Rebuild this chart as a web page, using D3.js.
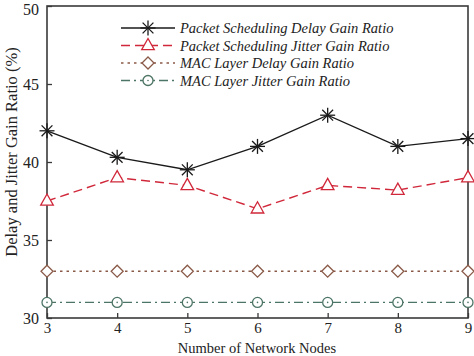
<!DOCTYPE html>
<html><head><meta charset="utf-8">
<script src="https://cdn.jsdelivr.net/npm/d3@7"></script>
<style>body{margin:0;background:#fff}svg{display:block}</style>
</head><body>
<script>
const nodes = [3,4,5,6,7,8,9];
const psDelay = [42.0,40.3,39.5,41.0,43.0,41.0,41.5];
const psJitter = [37.5,39.0,38.5,37.0,38.5,38.2,39.0];
const macDelay = [33,33,33,33,33,33,33];
const macJitter = [31,31,31,31,31,31,31];
const yTicks = [30,35,40,45,50];
const seriesNames = ["Packet Scheduling Delay Gain Ratio","Packet Scheduling Jitter Gain Ratio","MAC Layer Delay Gain Ratio","MAC Layer Jitter Gain Ratio"];

const W=474,H=356;
const svg=d3.select("body").append("svg").attr("width",W).attr("height",H);
const x=d3.scaleLinear().domain([3,9]).range([47,468]);
const y=d3.scaleLinear().domain([30,50]).range([318,6]);
const font="'Liberation Serif','Times New Roman',serif";

const series=[
 {name:seriesNames[0],vals:psDelay,color:"#1a1a1a",dash:null,marker:"star"},
 {name:seriesNames[1],vals:psJitter,color:"#d0283a",dash:"9,5",marker:"tri"},
 {name:seriesNames[2],vals:macDelay,color:"#8a5a48",dash:"2.5,4",marker:"diamond"},
 {name:seriesNames[3],vals:macJitter,color:"#4d7565",dash:"9,4,2,4",marker:"circle"}
];

function drawMarker(g,type,cx,cy,color){
  if(type==="star"){
    const r=7.5;
    [[-r,0,r,0],[0,-r,0,r],[-r*0.72,-r*0.72,r*0.72,r*0.72],[-r*0.72,r*0.72,r*0.72,-r*0.72]].forEach(l=>{
      g.append("line").attr("x1",cx+l[0]).attr("y1",cy+l[1]).attr("x2",cx+l[2]).attr("y2",cy+l[3]).attr("stroke",color).attr("stroke-width",1.3);
    });
  } else if(type==="tri"){
    const r=7;
    g.append("path").attr("d",`M${cx},${cy-r}L${cx+r*0.9},${cy+r*0.6}L${cx-r*0.9},${cy+r*0.6}Z`).attr("fill","#fff").attr("stroke",color).attr("stroke-width",1.3);
  } else if(type==="diamond"){
    const r=6;
    g.append("path").attr("d",`M${cx},${cy-r}L${cx+r},${cy}L${cx},${cy+r}L${cx-r},${cy}Z`).attr("fill","#fff").attr("stroke",color).attr("stroke-width",1.3);
  } else {
    g.append("circle").attr("cx",cx).attr("cy",cy).attr("r",5).attr("fill","#fff").attr("stroke",color).attr("stroke-width",1.3);
    g.append("circle").attr("cx",cx).attr("cy",cy).attr("r",0.8).attr("fill",color);
  }
}

// axes
const ax=svg.append("g").attr("stroke","#3a3a3a");
ax.append("rect").attr("x",47).attr("y",6).attr("width",421).attr("height",312).attr("fill","none").attr("stroke-width",1.6);

const xAxis=svg.append("g").attr("transform","translate(0,318)")
 .call(d3.axisBottom(x).tickValues(nodes).tickSize(-5).tickPadding(4).tickFormat(d3.format("d")));
const yAxis=svg.append("g").attr("transform","translate(47,0)")
 .call(d3.axisLeft(y).tickValues(yTicks).tickSize(-5).tickPadding(8));
[xAxis,yAxis].forEach(a=>{
  a.select(".domain").remove();
  a.selectAll(".tick line").attr("stroke","#3a3a3a").attr("stroke-width",1.3);
  a.selectAll("text").attr("font-family",font).attr("font-size",16).attr("fill","#222");
});
xAxis.selectAll("text").attr("font-size",15);
yAxis.selectAll(".tick").filter(d=>d===50).select("text").attr("dy","0.55em");

// series
const line=d3.line().x((d,i)=>x(nodes[i])).y(d=>y(d));
series.forEach(s=>{
  svg.append("path").datum(s.vals).attr("d",line).attr("fill","none")
    .attr("stroke",s.color).attr("stroke-width",1.4).attr("stroke-dasharray",s.dash);
  const g=svg.append("g");
  s.vals.forEach((v,i)=>drawMarker(g,s.marker,x(nodes[i]),y(v),s.color));
});

// legend
const lg=svg.append("g");
series.forEach((s,i)=>{
  const ly=28+i*17.5;
  lg.append("line").attr("x1",121).attr("x2",175).attr("y1",ly).attr("y2",ly)
    .attr("stroke",s.color).attr("stroke-width",1.4).attr("stroke-dasharray",s.dash);
  drawMarker(lg,s.marker,148,ly,s.color);
  lg.append("text").attr("x",180).attr("y",ly+5).text(s.name)
    .attr("font-family",font).attr("font-style","italic").attr("font-size",14.5).attr("fill","#222");
});

// titles
svg.append("text").attr("x",257).attr("y",352.5).attr("text-anchor","middle")
 .attr("font-family",font).attr("font-size",14.5).attr("fill","#222").text("Number of Network Nodes");
svg.append("text").attr("transform","translate(17,152) rotate(-90)").attr("text-anchor","middle")
 .attr("font-family",font).attr("font-size",16.5).attr("fill","#222").text("Delay and Jitter Gain Ratio (%)");
</script>
</body></html>
